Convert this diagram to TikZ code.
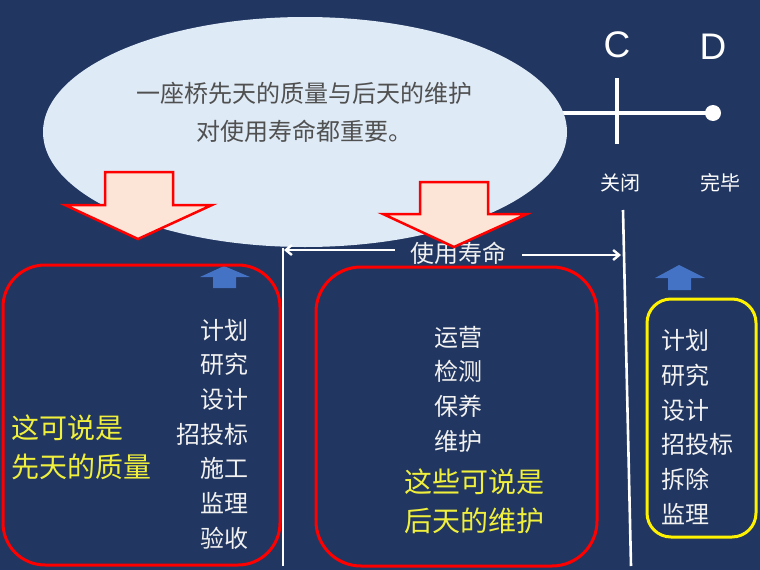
\documentclass[tikz,border=0pt]{standalone}
\usepackage{fontspec}
\setmainfont{Liberation Sans}
\newfontfamily\cjk{Noto Sans CJK SC}
\usetikzlibrary{shapes.geometric,arrows.meta}
\definecolor{bgnavy}{RGB}{33,54,96}
\definecolor{ellfill}{RGB}{222,234,246}
\definecolor{peach}{RGB}{252,228,214}
\definecolor{ytext}{RGB}{240,240,60}
\definecolor{wtext}{RGB}{242,242,242}
\definecolor{gtext}{RGB}{80,80,80}
\definecolor{bluearr}{RGB}{68,114,196}
\tikzset{
  wline/.style={draw=white, line width=2.6pt},
  redarrow/.style={draw=red, fill=peach, line width=2.5pt, line join=miter},
  bluearrow/.style={fill=bluearr},
  redbox/.style={draw=red, line width=3pt},
  yellowbox/.style={draw=yellow, line width=3pt},
  listtxt/.style={text=wtext, inner sep=0pt, font=\cjk\fontsize{24}{34.7}\selectfont},
  yeltxt/.style={text=ytext, inner sep=0pt, font=\cjk\fontsize{28}{39}\selectfont},
}
\begin{document}
\begin{tikzpicture}[x=1pt,y=-1pt]
\useasboundingbox (0,0) rectangle (760,570);
\fill[bgnavy] (0,0) rectangle (760,570);

% timeline at top right
\coordinate (tlA) at (540,113);
\coordinate (tlD) at (713,113);
\draw[draw=white, line width=4.5pt] (tlA) -- (tlD);
\fill[white] (tlD) circle (8);
\coordinate (ctop) at (617,78);
\coordinate (cbot) at (617,144);
\draw[draw=white, line width=4pt] (ctop) -- (cbot);

% ellipse
\node (ell) [ellipse, fill=ellfill, minimum width=524pt, minimum height=230pt, inner sep=0pt] at (305,132) {};
\node (elltxt) [text=gtext, inner sep=0pt, align=center, font=\cjk\fontsize{24}{38}\selectfont] at (304,112) {一座桥先天的质量与后天的维护\\对使用寿命都重要。};

% labels C D
\node (C) [text=white, font=\fontsize{37}{37}\selectfont, inner sep=0pt] at (617,45) {C};
\node (D) [text=white, font=\fontsize{37}{37}\selectfont, inner sep=0pt] at (713,47) {D};
\node (close) [text=white, font=\cjk\fontsize{20}{20}\selectfont, inner sep=0pt] at (620,183) {关闭};
\node (done) [text=white, font=\cjk\fontsize{20}{20}\selectfont, inner sep=0pt] at (720,183) {完毕};

% life span lines
\coordinate (lvtop) at (283,248);
\coordinate (lvbot) at (283,566);
\draw[wline] (lvtop) -- (lvbot);
\coordinate (rvtop) at (623,210);
\coordinate (rvbot) at (631,566);
\draw[wline] (rvtop) -- (rvbot);
\node (life) [text=wtext, inner sep=0pt, font=\cjk\fontsize{24}{24}\selectfont] at (458,253) {使用寿命};
\coordinate (lifeL) at (284,250);
\coordinate (lifeLs) at (395,250);
\coordinate (lifeR) at (621,255);
\coordinate (lifeRs) at (522,255);
\draw[draw=white, line width=2.4pt, -{Straight Barb[length=6pt,width=10pt]}] (lifeLs) -- (lifeL);
\draw[draw=white, line width=2.4pt, -{Straight Barb[length=6pt,width=10pt]}] (lifeRs) -- (lifeR);

% red block arrows
\draw[redarrow] (105,172) -- (173,172) -- (173,205) -- (212,205) -- (138,239) -- (65,205) -- (105,205) -- cycle;
\draw[redarrow] (420,182) -- (488,182) -- (488,214) -- (527,214) -- (454,247) -- (383,214) -- (420,214) -- cycle;

% blue up arrows
\fill[bluearrow] (224,266) -- (250,277) -- (236,277) -- (236,288) -- (213,288) -- (213,277) -- (200,277) -- cycle;
\fill[bluearrow] (679,265) -- (705,278) -- (691,278) -- (691,290) -- (668,290) -- (668,278) -- (655,278) -- cycle;

% boxes
\draw[redbox, rounded corners=42pt] (3,265) rectangle (280,565);
\draw[redbox, rounded corners=45pt] (316,267) rectangle (597,566);
\draw[yellowbox, rounded corners=24pt] (647,299) rectangle (756,537);

% left box texts
\node (leftlist) [listtxt, align=right, anchor=east] at (249,434) {计划\\研究\\设计\\招投标\\施工\\监理\\验收};
\node (leftyel) [yeltxt, align=left, anchor=west] at (11,447) {这可说是\\先天的质量};

% middle box texts
\node (midlist) [listtxt, align=left, anchor=west] at (434,389) {运营\\检测\\保养\\维护};
\node (midyel) [yeltxt, align=left] at (474,501) {这些可说是\\后天的维护};

% right box text
\node (rightlist) [listtxt, align=left, anchor=west] at (661,427) {计划\\研究\\设计\\招投标\\拆除\\监理};
\end{tikzpicture}
\end{document}
